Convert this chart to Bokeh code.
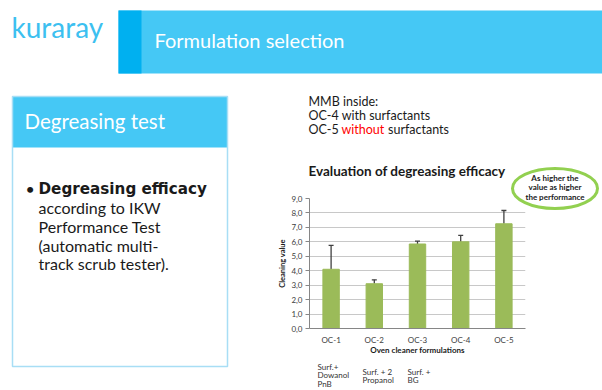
from bokeh.plotting import figure
from bokeh.models import ColumnDataSource, Range1d, FixedTicker, Whisker, TeeHead
from bokeh.embed import file_html
from bokeh.resources import INLINE
from bokeh.core.properties import value

# ---------------- data ----------------
categories = ["OC-1", "OC-2", "OC-3", "OC-4", "OC-5"]
cleaning_values = [4.1, 3.1, 5.85, 6.0, 7.25]
error_upper = [5.75, 3.37, 6.05, 6.45, 8.17]
y_ticks = [0, 1, 2, 3, 4, 5, 6, 7, 8, 9]
y_tick_labels = ["0,0", "1,0", "2,0", "3,0", "4,0", "5,0", "6,0", "7,0", "8,0", "9,0"]

slide_title = "Formulation selection"
logo_text = "kuraray"
panel_title = "Degreasing test"
bullet_bold = "Degreasing efficacy"
bullet_lines = ["according to IKW", "Performance Test", "(automatic multi-", "track scrub tester)."]
note_lines = ["MMB inside:", "OC-4 with surfactants"]
chart_title = "Evaluation of degreasing efficacy"
callout_lines = ["As higher the", "value as higher", "the performance"]
composition_notes = [["Surf.+", "Dowanol", "PnB"], ["Surf. + 2", "Propanol"], ["Surf. +", "BG"]]

# ---------------- layout ----------------
W, H = 602, 390
FL, FR, FT, FB = 309, 525, 198, 328   # chart frame in page pixels
FONT = "Lato"
DARK = "#1a1a1a"
BLUE = "#45c8f5"

xpos = [i + 0.5 for i in range(len(categories))]

p = figure(width=W, height=H, x_range=Range1d(0, len(categories)), y_range=Range1d(0, 9),
           output_backend="svg", toolbar_location=None,
           min_border_left=FL, min_border_right=W - FR,
           min_border_top=FT, min_border_bottom=H - FB)
p.extra_x_ranges = {"px": Range1d(FL, FR)}
p.extra_y_ranges = {"px": Range1d(FB, FT)}
p.outline_line_color = None
p.background_fill_color = "white"
p.border_fill_color = "white"

# axes
p.yaxis.ticker = FixedTicker(ticks=y_ticks)
p.yaxis.major_label_overrides = dict(zip(y_ticks, y_tick_labels))
p.yaxis.axis_line_color = "#868686"
p.yaxis.major_tick_line_color = "#868686"
p.yaxis.major_tick_out = 4
p.yaxis.major_tick_in = 0
p.yaxis.minor_tick_line_color = None
p.yaxis.major_label_text_font = FONT
p.yaxis.major_label_text_font_size = "8px"
p.yaxis.major_label_text_color = "#404040"
p.yaxis.major_label_standoff = 3
p.yaxis.axis_label = "Cleaning value"
p.yaxis.axis_label_text_font = FONT
p.yaxis.axis_label_text_font_size = "7.5px"
p.yaxis.axis_label_text_font_style = "bold"
p.yaxis.axis_label_text_color = DARK
p.yaxis.axis_label_standoff = 1

p.xaxis.ticker = FixedTicker(ticks=xpos)
p.xaxis.major_label_overrides = dict(zip(xpos, categories))
p.xaxis.axis_line_color = "#868686"
p.xaxis.major_tick_line_color = None
p.xaxis.minor_tick_line_color = None
p.xaxis.major_tick_out = 0
p.xaxis.major_tick_in = 0
p.xaxis.major_label_text_font = FONT
p.xaxis.major_label_text_font_size = "8px"
p.xaxis.major_label_text_color = "#404040"
p.xaxis.major_label_standoff = 6
p.xaxis.axis_label = "Oven cleaner formulations"
p.xaxis.axis_label_text_font = FONT
p.xaxis.axis_label_text_font_size = "8px"
p.xaxis.axis_label_text_font_style = "bold"
p.xaxis.axis_label_text_color = DARK
p.xaxis.axis_label_standoff = -3

p.xgrid.grid_line_color = None
p.ygrid.grid_line_color = "#c8c8c8"

# bars + error bars
src = ColumnDataSource(dict(x=xpos, vals=cleaning_values, upper=error_upper))
p.vbar(x="x", top="vals", width=0.38, source=src, fill_color="#9bbb59", line_color="#9bbb59")
wh = Whisker(source=src, base="x", lower="vals", upper="upper", line_color="#404040", line_width=1.3,
             upper_head=TeeHead(size=5, line_color="#404040", line_width=1.3), lower_head=None)
p.add_layout(wh)

# ---------------- slide decorations ----------------
kw = dict(x_range_name="px", y_range_name="px", level="overlay")

def box(l, r, t, b, fill=None, line=None, lw=1):
    p.quad(left=[l], right=[r], top=[t], bottom=[b], fill_color=fill, line_color=line, line_width=lw, **kw)

def txt(x, y, s, size, color=DARK, bold=False, align="left", font=FONT):
    # y is the vertical middle of the text line
    p.text(x=[x], y=[y], text=[s], text_font=value(font), text_font_size=f"{size}px",
           text_font_style="bold" if bold else "normal", text_color=color,
           text_align=align, text_baseline="middle", **kw)

# header bar
box(118, 610, 10, 73, fill=BLUE)
box(118, 141, 10, 73, fill="#00b0f0")
txt(154, 39, slide_title, 20, color="white")
txt(11, 26.5, logo_text, 28, color="#3cc0f0")

# left panel
box(12, 227, 96, 147, fill=BLUE)
box(12, 227, 96, 366, line="#a8def5", lw=1.5)
txt(24, 120, panel_title, 20.5, color="white")
txt(25, 188, "\u2022", 16)
txt(38, 188.5, bullet_bold, 15.2, bold=True, font="DejaVu Sans")
for i, s in enumerate(bullet_lines):
    txt(38, 207 + 18.8 * i, s, 16)

# notes
txt(308, 100.5, note_lines[0], 12.5)
txt(308, 114.5, note_lines[1], 12.5)
txt(308, 128.5, "OC-5", 12.5)
txt(341, 128.5, "without", 12.5, color="#ff0000")
txt(387.5, 128.5, "surfactants", 12.5)

# chart title
txt(406.5, 170, chart_title, 13.5, bold=True, align="center")

# callout ellipse
p.ellipse(x=[554.5], y=[188], width=[85], height=[40], width_units="screen", height_units="screen",
          fill_color=None, line_color="#92d050", line_width=3, **kw)
for i, s in enumerate(callout_lines):
    txt(554.5, 177 + 9.5 * i, s, 8, bold=True, align="center")

# composition notes under the chart
col_x = [317, 362, 407]
col_y0 = [366, 371, 371]
for cx, cy, lines in zip(col_x, col_y0, composition_notes):
    for j, s in enumerate(lines):
        txt(cx, cy + 8.5 * j, s, 8, color="#333333")

open("out.html", "w").write(file_html(p, INLINE))
